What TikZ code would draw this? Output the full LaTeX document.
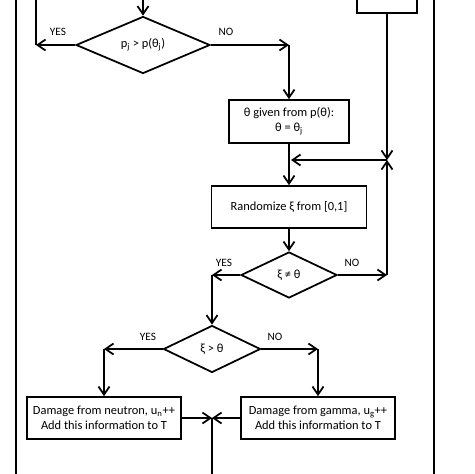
\documentclass[tikz,border=0pt]{standalone}
\usepackage{fontspec}
\setmainfont{Carlito}
\usetikzlibrary{arrows.meta,shapes.geometric}
\tikzset{
  kutija/.style={draw=black,line width=1.5pt,align=center,inner sep=2pt,
                 font=\fontsize{10.6}{13}\selectfont},
  romb/.style={diamond,draw=black,line width=1.5pt,inner sep=0pt,aspect=2.2,
               font=\fontsize{10.6}{12}\selectfont},
  oznaka/.style={font=\fontsize{9.6}{10}\selectfont},
  lin/.style={line width=1.5pt,black},
  str/.style={-{Straight Barb[length=2.4mm,width=3.3mm,line width=1.5pt]},
              line width=1.5pt,black},
}

\begin{document}
\begin{tikzpicture}[x=0.03cm,y=-0.03cm]

  \useasboundingbox (0,0) rectangle (474,474);
  \clip (0,0) rectangle (474,474);

  % ---------- SPOLJNE LINIJE ----------
  \coordinate (levo1) at (16,0);   \coordinate (levo2) at (16,474);
  \coordinate (desno1) at (434,0); \coordinate (desno2) at (434,474);
  \draw[lin] (levo1) -- (levo2);
  \draw[lin] (desno1) -- (desno2);

  % ---------- GORNJI DEO ----------
  \node[kutija,minimum width=1.8cm,minimum height=1.5cm] (gore) at (387,-12) {};
  \node[romb,minimum width=4.02cm,minimum height=1.71cm] (d1) at (143,45)
       {p\textsubscript{j} > p(θ\textsubscript{j})};
  \node[kutija,minimum width=3.6cm,minimum height=1.29cm] (teta) at (289,121.5)
       {θ given from p(θ):\\θ = θ\textsubscript{j}};

  \coordinate (ulaz1) at (143,0);
  \coordinate (ulaz2) at (36,0);
  \coordinate (da1) at (36,45);
  \coordinate (ne1) at (289,45);
  \draw[str] (ulaz1) -- (d1.north);
  \draw[lin] (ulaz2) -- (da1);
  \draw[str] (d1.west) -- (da1);
  \draw[str] (d1.east) -- (ne1);
  \draw[str] (ne1) -- (teta.north);
  \node[oznaka] (yes1) at (58,32) {YES};
  \node[oznaka] (no1) at (226,32) {NO};

  % ---------- PETLJA ----------
  \coordinate (spoj) at (387,160);
  \coordinate (ulevo) at (291,160);
  \node[kutija,minimum width=4.65cm,minimum height=1.26cm] (rand) at (289,207)
       {Randomize ξ from [0,1]};
  \node[romb,minimum width=2.88cm,minimum height=1.38cm] (d2) at (289,275)
       {ξ ≠ θ};

  \draw[str] (gore.south) -- (spoj);
  \draw[str] (spoj) -- (ulevo);
  \draw[str] (teta.south) -- (rand.north);
  \draw[str] (rand.south) -- (d2.north);

  \coordinate (ne2) at (387,275);
  \coordinate (da2) at (212,275);
  \draw[str] (d2.east) -- (ne2);
  \draw[str] (ne2) -- (spoj);
  \draw[str] (d2.west) -- (da2);
  \node[oznaka] (yes2) at (224,263) {YES};
  \node[oznaka] (no2) at (352,263) {NO};

  % ---------- DONJI DEO ----------
  \node[romb,minimum width=2.91cm,minimum height=1.41cm] (d3) at (212,349)
       {ξ > θ};
  \draw[str] (da2) -- (d3.north);

  \node[kutija,minimum width=4.62cm,minimum height=1.26cm] (neutron) at (104,418)
       {Damage from neutron, u\textsubscript{n}++\\Add this information to T};
  \node[kutija,minimum width=4.62cm,minimum height=1.26cm] (gama) at (318,418)
       {Damage from gamma, u\textsubscript{g}++\\Add this information to T};

  \coordinate (da3) at (104,349);
  \coordinate (ne3) at (318,349);
  \draw[str] (d3.west) -- (da3);
  \draw[str] (da3) -- (neutron.north);
  \draw[str] (d3.east) -- (ne3);
  \draw[str] (ne3) -- (gama.north);
  \node[oznaka] (yes3) at (148,337) {YES};
  \node[oznaka] (no3) at (275,337) {NO};

  \coordinate (spoj2) at (212,418);
  \coordinate (izlaz) at (212,474);
  \draw[str] (neutron.east) -- (spoj2);
  \draw[str] (gama.west) -- (spoj2);
  \draw[lin] (spoj2) -- (izlaz);

\end{tikzpicture}
\end{document}
